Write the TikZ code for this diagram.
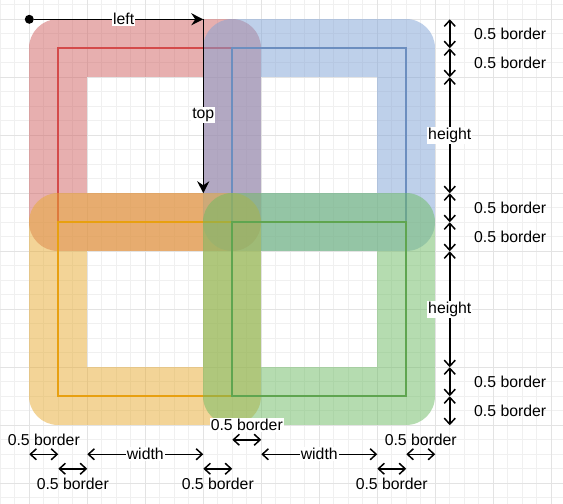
\documentclass[tikz,border=0pt]{standalone}
\usepackage{fontspec}
\setmainfont{Liberation Sans}
\usepackage{xcolor}
\usepackage{tikz}
\usetikzlibrary{arrows.meta}

\definecolor{redband}{HTML}{D06060}
\definecolor{blueband}{HTML}{7FA2D6}
\definecolor{yellowband}{HTML}{E8AB30}
\definecolor{greenband}{HTML}{6CBB62}
\definecolor{redline}{HTML}{D44A4A}
\definecolor{blueline}{HTML}{6C8EBF}
\definecolor{yellowline}{HTML}{E8A010}
\definecolor{greenline}{HTML}{5FA550}

\begin{document}
\begin{tikzpicture}[x=14.5pt, y=-14.5pt,
  gridminor/.style={black!6, line width=0.7pt},
  gridmajor/.style={black!11, line width=0.7pt},
  band/.style={line width=58pt, line join=round, opacity=0.5},
  edge/.style={line width=1.9pt},
  dot/.style={circle, fill=black, inner sep=0pt, minimum size=9pt},
  pointer/.style={line width=1.5pt, -{Stealth[length=12pt, width=12pt, inset=4pt]}},
  dim/.style={line width=1.5pt, <->, >={Straight Barb[length=6pt, width=11pt]}},
  lbl/.style={font=\fontsize{15.8}{18}\selectfont, inner sep=1pt},
  onlbl/.style={lbl, fill=white}]
  \useasboundingbox (-2.02,-1.33) rectangle (36.81,33.43);
  \fill[white] (-2.02,-1.33) rectangle (36.81,33.43);
  % background grid
  \foreach \x in {-2,...,36}
    \draw[gridminor] (\x,-1.33) -- (\x,33.43);
  \foreach \y in {-1,...,33}
    \draw[gridminor] (-2.02,\y) -- (36.81,\y);
  \foreach \x in {0,4,...,36}
    \draw[gridmajor] (\x,-1.33) -- (\x,33.43);
  \foreach \y in {0,4,...,32}
    \draw[gridmajor] (-2.02,\y) -- (36.81,\y);
  % the four boxes: wide half-transparent border, thin outline on its middle
  \draw[band, redband] (2,2) rectangle (14,14);
  \draw[edge, redline] (2,2) rectangle (14,14);
  \draw[band, blueband] (14,2) rectangle (26,14);
  \draw[edge, blueline] (14,2) rectangle (26,14);
  \draw[band, yellowband] (2,14) rectangle (14,26);
  \draw[edge, yellowline] (2,14) rectangle (14,26);
  \draw[band, greenband] (14,14) rectangle (26,26);
  \draw[edge, greenline] (14,14) rectangle (26,26);
  % left / top offsets
  \node[dot] (start) at (0,0) {};
  \coordinate (corner) at (12,0);
  \coordinate (topend) at (12,12);
  \draw[pointer] (start) -- (corner) node[pos=0.53, onlbl] (leftlbl) {left};
  \draw[pointer] (corner) -- (topend) node[pos=0.55, onlbl] (toplbl) {top};
  % measures on the right
  \foreach \y in {0,2,4,12,14,16,24,26,28}
    \coordinate (r\y) at (29,\y);
  \draw[dim] (r0) -- (r2);
  \draw[dim] (r2) -- (r4);
  \draw[dim] (r4) -- (r12) node[midway, onlbl] (hgt1) {height};
  \draw[dim] (r12) -- (r14);
  \draw[dim] (r14) -- (r16);
  \draw[dim] (r16) -- (r24) node[midway, onlbl] (hgt2) {height};
  \draw[dim] (r24) -- (r26);
  \draw[dim] (r26) -- (r28);
  \foreach \y [count=\i] in {1,3,13,15,25,27}
    \node[lbl, anchor=west] (rb\i) at (30.6,\y) {0.5 border};
  % measures below
  \foreach \x in {0,2,4,12,14,16,24,26,28} {
    \coordinate (u\x) at (\x,30);
    \coordinate (l\x) at (\x,31);
  }
  \coordinate (m14) at (14,29);
  \coordinate (m16) at (16,29);
  % Row 1
  \draw[dim] (u0) -- (u2) node[midway, lbl, yshift=14.5pt] (ub1) {0.5 border};
  \draw[dim] (u4) -- (u12) node[midway, onlbl] (wd1) {width};
  \draw[dim] (u16) -- (u24) node[midway, onlbl] (wd2) {width};
  \draw[dim] (u26) -- (u28) node[midway, lbl, yshift=14.5pt] (ub2) {0.5 border};
  % Row 2
  \draw[dim] (l2) -- (l4) node[midway, lbl, yshift=-15pt] (lb1) {0.5 border};
  \draw[dim] (l12) -- (l14) node[midway, lbl, yshift=-15pt] (lb2) {0.5 border};
  \draw[dim] (l24) -- (l26) node[midway, lbl, yshift=-15pt] (lb3) {0.5 border};
  % the one in between
  \draw[dim] (m14) -- (m16) node[midway, onlbl, yshift=14.5pt] (mb) {0.5 border};
\end{tikzpicture}
\end{document}
